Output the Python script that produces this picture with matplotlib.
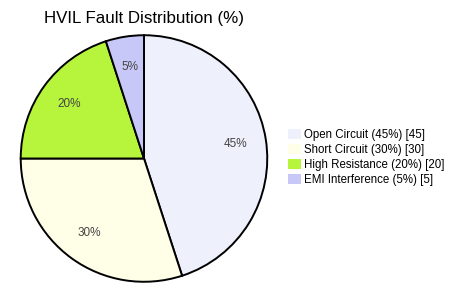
import matplotlib.pyplot as plt

plt.rcParams['font.family'] = ['Liberation Sans', 'DejaVu Sans']

labels = ['Open Circuit', 'Short Circuit', 'High Resistance', 'EMI Interference']
values = [45, 30, 20, 5]
colors = ['#eef0fc', '#ffffe8', '#b6f53c', '#c8c8f8']

fig = plt.figure(figsize=(4.74, 3.0), dpi=100)
ax = fig.add_axes([19 / 474, (300 - 283) / 300, 250 / 474, 249 / 300])

wedges, texts, autotexts = ax.pie(
    values, colors=colors, startangle=90, counterclock=False,
    autopct='%1.0f%%', pctdistance=0.75,
    wedgeprops=dict(edgecolor='black', linewidth=1.4),
    textprops=dict(color='#444444', fontsize=8.5))
ax.set_xlim(-1.01, 1.01)
ax.set_ylim(-1.01, 1.01)
ax.set_aspect('equal')

fig.text(144 / 474, 1 - 18 / 300, 'HVIL Fault Distribution (%)',
         ha='center', va='center', fontsize=12.2)

# legend swatches without the black wedge outline
handles = [plt.Rectangle((0, 0), 1, 1, facecolor=c, edgecolor='none') for c in colors]
leg_labels = ['%s (%d%%) [%d]' % (l, v, v) for l, v in zip(labels, values)]
fig.legend(handles, leg_labels, loc='center left',
           bbox_to_anchor=(288 / 474, 1 - 157.5 / 300), frameon=False,
           fontsize=8.3, handlelength=1.1, handleheight=0.95,
           handletextpad=0.3, labelspacing=0.25, borderpad=0,
           borderaxespad=0)

fig.savefig('out.png', dpi=100)
